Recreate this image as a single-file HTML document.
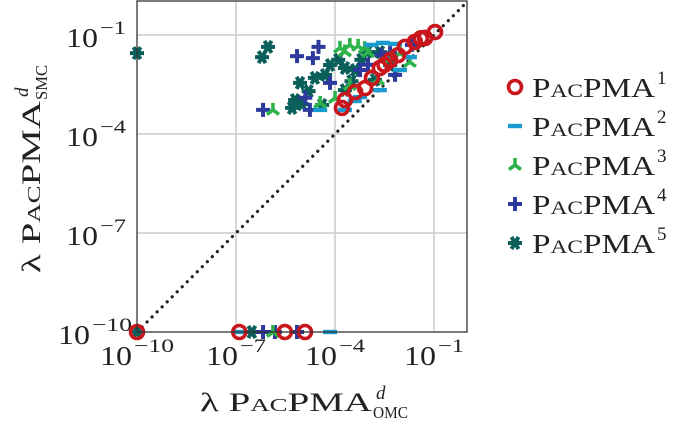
<!DOCTYPE html>
<html><head><meta charset="utf-8"><style>
body{margin:0;background:#fff}
svg text{font-family:"Liberation Serif",serif;fill:#222}
.sc{font-variant:small-caps}
</style></head><body>
<svg id="chart" width="685" height="421" viewBox="0 0 685 421">
<g id="grid"></g>
<g id="ticks"></g>
<line x1="137" y1="332" x2="467" y2="2" stroke="#222" stroke-width="3.2" stroke-dasharray="0.1 7" stroke-linecap="round"/>
<g id="marks"></g>
<rect x="137" y="1" width="330" height="331" fill="none" stroke="#333" stroke-width="1.3"/>
<g>
<text x="200" y="411" font-size="26" textLength="172" lengthAdjust="spacingAndGlyphs">λ P<tspan class="sc">ac</tspan>PMA</text>
<text x="376" y="399" font-size="19" font-style="italic">d</text>
<text x="373" y="418" font-size="17" textLength="35" lengthAdjust="spacingAndGlyphs">OMC</text>
</g>
<g transform="translate(40,273) rotate(-90)">
<text x="0" y="0" font-size="26" textLength="172" lengthAdjust="spacingAndGlyphs">λ P<tspan class="sc">ac</tspan>PMA</text>
<text x="176" y="-12" font-size="19" font-style="italic">d</text>
<text x="173" y="7" font-size="17" textLength="35" lengthAdjust="spacingAndGlyphs">SMC</text>
</g>
<g id="legend"></g>
</svg>
<script>
const xTicks=[-10,-7,-4,-1];
const yTicks=[-10,-7,-4,-1];
const seriesNames=["1","2","3","4","5"];
const s1x=[-0.97,-1.27,-1.58,-1.88,-2.09,-2.33,-2.64,-2.88,-3.09,-3.39,-3.70,-3.79,-10,-5.52,-4.91,-6.9,-2.5,-1.4];
const s1y=[-0.91,-1.09,-1.21,-1.36,-1.61,-1.76,-2.0,-2.3,-2.61,-2.73,-2.97,-3.21,-10,-10,-10,-10,-1.9,-1.1];
const s2x=[-2.55,-2.18,-1.73,-2.03,-2.64,-3.24,-3.70,-4.45,-4.15,-6.88,-2.9,-3.4];
const s2y=[-1.24,-1.27,-1.67,-2.06,-2.67,-2.88,-3.27,-3.27,-10,-10,-1.3,-3.0];
const s3x=[-3.85,-3.55,-3.30,-3.0,-2.03,-1.73,-2.70,-3.55,-4.0,-4.45,-5.88,-5.88,-3.7,-3.1,-2.3];
const s3y=[-1.39,-1.30,-1.33,-1.52,-1.55,-1.82,-2.36,-2.52,-2.91,-3.06,-3.27,-10,-1.5,-1.4,-1.7];
const s4x=[-5.15,-4.67,-4.5,-2.33,-1.67,-4.15,-3.24,-2.18,-6.18,-4.76,-6.18,-5.82,-5.15,-3.0,-2.6,-4.9];
const s4y=[-1.64,-1.70,-1.36,-1.55,-1.30,-2.45,-2.06,-2.21,-3.27,-3.27,-10,-10,-10,-1.9,-1.6,-2.9];
const s5x=[-6.21,-6.03,-10,-3.03,-2.64,-4.15,-3.70,-3.39,-4.3,-4.61,-5.06,-5.21,-5.3,-4.39,-2.79,-2.33,-3.70,-10,-6.52,-3.9,-3.2,-4.8,-5.0,-3.5];
const s5y=[-1.67,-1.36,-1.55,-1.52,-1.52,-1.91,-2.0,-2.06,-2.21,-2.30,-2.45,-2.97,-3.21,-3.12,-2.36,-1.91,-2.67,-10,-10,-1.75,-1.75,-2.7,-3.1,-2.4];

const NS="http://www.w3.org/2000/svg";
const X=v=>137+(v+10)*33, Y=v=>332-(v+10)*33;
function mk(t,a,p){const e=document.createElementNS(NS,t);for(const k in a)e.setAttribute(k,a[k]);p.appendChild(e);return e;}
const grid=document.getElementById('grid'),ticks=document.getElementById('ticks');
function label(x,y,v){
  const g=mk('g',{},ticks);
  const a=mk('text',{x:x,y:y,'font-size':27,textLength:32,lengthAdjust:'spacingAndGlyphs'},g);
  a.textContent='10';
  const s='−'+(-v);
  const b=mk('text',{x:x+34,y:y-13,'font-size':19,textLength:s.length==2?26:40,lengthAdjust:'spacingAndGlyphs'},g);
  b.textContent=s;
  return g;
}
xTicks.forEach(v=>{
  if(v>-10){const l=mk('line',{x1:X(v),x2:X(v),y1:1,y2:332,stroke:'#ccc','stroke-width':1.5},grid);
  
  }
  const g=label(X(v)-(v==-10?37:30),365,v);
  
  
});
yTicks.forEach(v=>{
  if(v>-10){const l=mk('line',{x1:137,x2:467,y1:Y(v),y2:Y(v),stroke:'#ccc','stroke-width':1.5},grid);
  
  }
  const g=label(v==-10?58:66,Y(v)+12,v);
  
  
});
const cols=['#c8161d','#1a9bd0','#2db34a','#2b3a9c','#0a5f5a'];
function marker(k,x,y,p){
  let e;
  if(k==0)e=mk('circle',{cx:x,cy:y,r:6.5,fill:'none',stroke:cols[0],'stroke-width':3.6},p);
  else if(k==1)e=mk('rect',{x:x-7,y:y-2.2,width:14,height:4.4,fill:cols[1]},p);
  else if(k==2)e=mk('path',{d:`M${x} ${y}V${y-7}M${x} ${y}L${x-6} ${y+4.5}M${x} ${y}L${x+6} ${y+4.5}`,stroke:cols[2],'stroke-width':3.6,fill:'none'},p);
  else if(k==3)e=mk('path',{d:`M${x-7} ${y}H${x+7}M${x} ${y-7}V${y+7}`,stroke:cols[3],'stroke-width':4},p);
  else e=mk('path',{d:`M${x-7} ${y}H${x+7}M${x-3.5} ${y-6}L${x+3.5} ${y+6}M${x-3.5} ${y+6}L${x+3.5} ${y-6}`,stroke:cols[4],'stroke-width':4},p);
  return e;
}
const marks=document.getElementById('marks');
const SX=[s1x,s2x,s3x,s4x,s5x],SY=[s1y,s2y,s3y,s4y,s5y];
[4,3,2,1,0].forEach(k=>{SX[k].forEach((v,i)=>{
  const m=marker(k,X(v),Y(SY[k][i]),marks);
  
  
});});
const lg=document.getElementById('legend');
seriesNames.forEach((n,k)=>{
  const y=87+k*39;
  const m=marker(k,515,y,lg);
  
  
  const g=mk('g',{},lg);
  
  
  const t=mk('text',{x:532,y:y+10,'font-size':27,textLength:123,lengthAdjust:'spacingAndGlyphs'},g);
  t.innerHTML='P<tspan class="sc">ac</tspan>PMA';
  const s=mk('text',{x:657,y:y-3,'font-size':19},g);
  s.textContent=n;
});
</script>
</body></html>
